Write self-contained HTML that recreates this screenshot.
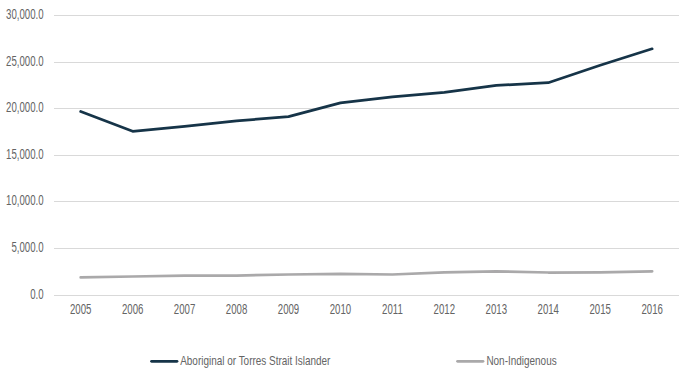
<!DOCTYPE html>
<html><head><meta charset="utf-8"><style>
html,body{margin:0;padding:0;background:#fff;}
svg{display:block;font-family:"Liberation Sans",sans-serif;}
</style></head><body>
<svg width="693" height="386" viewBox="0 0 693 386">
<rect width="693" height="386" fill="#fff"/>
<rect x="54" y="15" width="625" height="1" fill="#d9d9d9"/>
<rect x="54" y="62" width="625" height="1" fill="#d9d9d9"/>
<rect x="54" y="108" width="625" height="1" fill="#d9d9d9"/>
<rect x="54" y="155" width="625" height="1" fill="#d9d9d9"/>
<rect x="54" y="201" width="625" height="1" fill="#d9d9d9"/>
<rect x="54" y="248" width="625" height="1" fill="#d9d9d9"/>
<rect x="54" y="295" width="625" height="1" fill="#d9d9d9"/>
<text x="0" y="0" transform="translate(43.60,19.10) scale(0.69,1)" text-anchor="end" font-size="14" fill="#646464">30,000.0</text>
<text x="0" y="0" transform="translate(43.60,66.10) scale(0.69,1)" text-anchor="end" font-size="14" fill="#646464">25,000.0</text>
<text x="0" y="0" transform="translate(43.60,112.10) scale(0.69,1)" text-anchor="end" font-size="14" fill="#646464">20,000.0</text>
<text x="0" y="0" transform="translate(43.60,159.10) scale(0.69,1)" text-anchor="end" font-size="14" fill="#646464">15,000.0</text>
<text x="0" y="0" transform="translate(43.60,205.10) scale(0.69,1)" text-anchor="end" font-size="14" fill="#646464">10,000.0</text>
<text x="0" y="0" transform="translate(43.60,252.10) scale(0.69,1)" text-anchor="end" font-size="14" fill="#646464">5,000.0</text>
<text x="0" y="0" transform="translate(43.60,299.10) scale(0.69,1)" text-anchor="end" font-size="14" fill="#646464">0.0</text>
<text x="0" y="0" transform="translate(80.70,313.80) scale(0.69,1)" text-anchor="middle" font-size="14" fill="#646464">2005</text>
<text x="0" y="0" transform="translate(132.65,313.80) scale(0.69,1)" text-anchor="middle" font-size="14" fill="#646464">2006</text>
<text x="0" y="0" transform="translate(184.60,313.80) scale(0.69,1)" text-anchor="middle" font-size="14" fill="#646464">2007</text>
<text x="0" y="0" transform="translate(236.55,313.80) scale(0.69,1)" text-anchor="middle" font-size="14" fill="#646464">2008</text>
<text x="0" y="0" transform="translate(288.50,313.80) scale(0.69,1)" text-anchor="middle" font-size="14" fill="#646464">2009</text>
<text x="0" y="0" transform="translate(340.45,313.80) scale(0.69,1)" text-anchor="middle" font-size="14" fill="#646464">2010</text>
<text x="0" y="0" transform="translate(392.40,313.80) scale(0.69,1)" text-anchor="middle" font-size="14" fill="#646464">2011</text>
<text x="0" y="0" transform="translate(444.35,313.80) scale(0.69,1)" text-anchor="middle" font-size="14" fill="#646464">2012</text>
<text x="0" y="0" transform="translate(496.30,313.80) scale(0.69,1)" text-anchor="middle" font-size="14" fill="#646464">2013</text>
<text x="0" y="0" transform="translate(548.25,313.80) scale(0.69,1)" text-anchor="middle" font-size="14" fill="#646464">2014</text>
<text x="0" y="0" transform="translate(600.20,313.80) scale(0.69,1)" text-anchor="middle" font-size="14" fill="#646464">2015</text>
<text x="0" y="0" transform="translate(652.15,313.80) scale(0.69,1)" text-anchor="middle" font-size="14" fill="#646464">2016</text>
<polyline points="80.70,277.40 132.65,276.50 184.60,275.60 236.55,275.60 288.50,274.50 340.45,273.80 392.40,274.50 444.35,272.40 496.30,271.30 548.25,272.50 600.20,272.40 652.15,271.30" fill="none" stroke="#aaa9aa" stroke-width="2.75" stroke-linejoin="round" stroke-linecap="round"/>
<polyline points="80.70,111.50 132.65,131.30 184.60,126.40 236.55,120.80 288.50,116.70 340.45,102.90 392.40,96.90 444.35,92.30 496.30,85.40 548.25,82.70 600.20,65.30 652.15,48.80" fill="none" stroke="#163448" stroke-width="2.75" stroke-linejoin="round" stroke-linecap="round"/>
<line x1="151.5" y1="361.3" x2="177" y2="361.3" stroke="#163448" stroke-width="2.75" stroke-linecap="round"/>
<text x="0" y="0" transform="translate(180.20,365.00) scale(0.83,1)" text-anchor="start" font-size="12" fill="#646464">Aboriginal or Torres Strait Islander</text>
<line x1="457.5" y1="361.3" x2="483" y2="361.3" stroke="#aaa9aa" stroke-width="2.75" stroke-linecap="round"/>
<text x="0" y="0" transform="translate(486.40,365.00) scale(0.83,1)" text-anchor="start" font-size="12" fill="#646464">Non-Indigenous</text>
</svg></body></html>
